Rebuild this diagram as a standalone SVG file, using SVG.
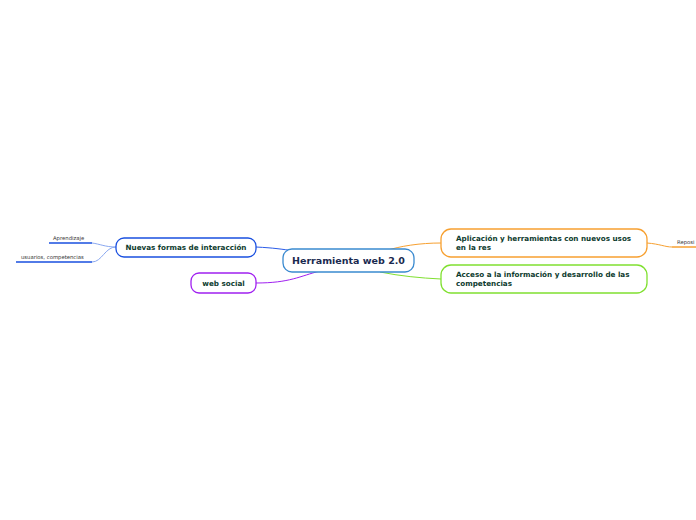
<svg xmlns="http://www.w3.org/2000/svg" width="696" height="520" viewBox="0 0 696 520">
<style>
.n{fill:#fff;stroke-width:1.3}
.t{font-family:"DejaVu Sans",sans-serif;font-weight:bold;font-size:7.2px;fill:#0d3b2e}
.s{font-family:"DejaVu Sans",sans-serif;font-size:5.3px;fill:#333}
.c{fill:none;stroke-width:1}
</style>
<rect width="696" height="520" fill="#fff"/>
<g id="connectors">
<path class="c" stroke="#2a5be8" d="M256,247 C275,248 280,249 295,251"/>
<path class="c" stroke="#a020f0" d="M256,283 C290,283 300,276 320,271"/>
<path class="c" stroke="#f7a030" d="M385,251 C400,246 420,243 441,243"/>
<path class="c" stroke="#80e030" d="M380,272 C400,276 420,278 441,279"/>
<path class="c" stroke="#f7a030" d="M647,243 C660,244 665,247 672,247"/>
<path class="c" stroke="#8aa8f0" d="M116,247 C105,247 100,244 92,243"/>
<path class="c" stroke="#8aa8f0" d="M116,247 C105,247 102,262 92,262"/>
<path stroke="#1a50e0" stroke-width="1.5" d="M49,243H92M16,262H92"/>
<path stroke="#f7a030" stroke-width="1.5" d="M672,247H696"/>
</g>
<g id="center"><rect class="n" stroke="#3a8ad0" x="283" y="249" width="131" height="23" rx="9"/><text class="t" style="font-size:9.5px;fill:#1a2a50" x="348.5" y="264" text-anchor="middle">Herramienta web 2.0</text></g>
<g id="nuevas"><rect class="n" stroke="#1a50e0" x="116" y="238" width="140" height="19" rx="8"/><text class="t" x="186" y="250" text-anchor="middle">Nuevas formas de interacción</text></g>
<g id="websocial"><rect class="n" stroke="#a020f0" x="191" y="273" width="65" height="20" rx="8"/><text class="t" x="223.5" y="286" text-anchor="middle">web social</text></g>
<g id="aplicacion"><rect class="n" stroke="#f7a030" x="441" y="229" width="206" height="28" rx="10"/><text class="t" x="456" y="241">Aplicación y herramientas con nuevos usos</text><text class="t" x="456" y="250">en la res</text></g>
<g id="acceso"><rect class="n" stroke="#80e030" x="441" y="265" width="206" height="28" rx="10"/><text class="t" x="456" y="277">Acceso a la información y desarrollo de las</text><text class="t" x="456" y="286">competencias</text></g>
<g id="aprendizaje"><text class="s" x="53" y="240">Aprendizaje</text></g>
<g id="usuarios"><text class="s" x="21" y="259">usuarios, competencias</text></g>
<g id="reposi"><text class="s" x="677" y="244">Reposi</text></g>
</svg>
